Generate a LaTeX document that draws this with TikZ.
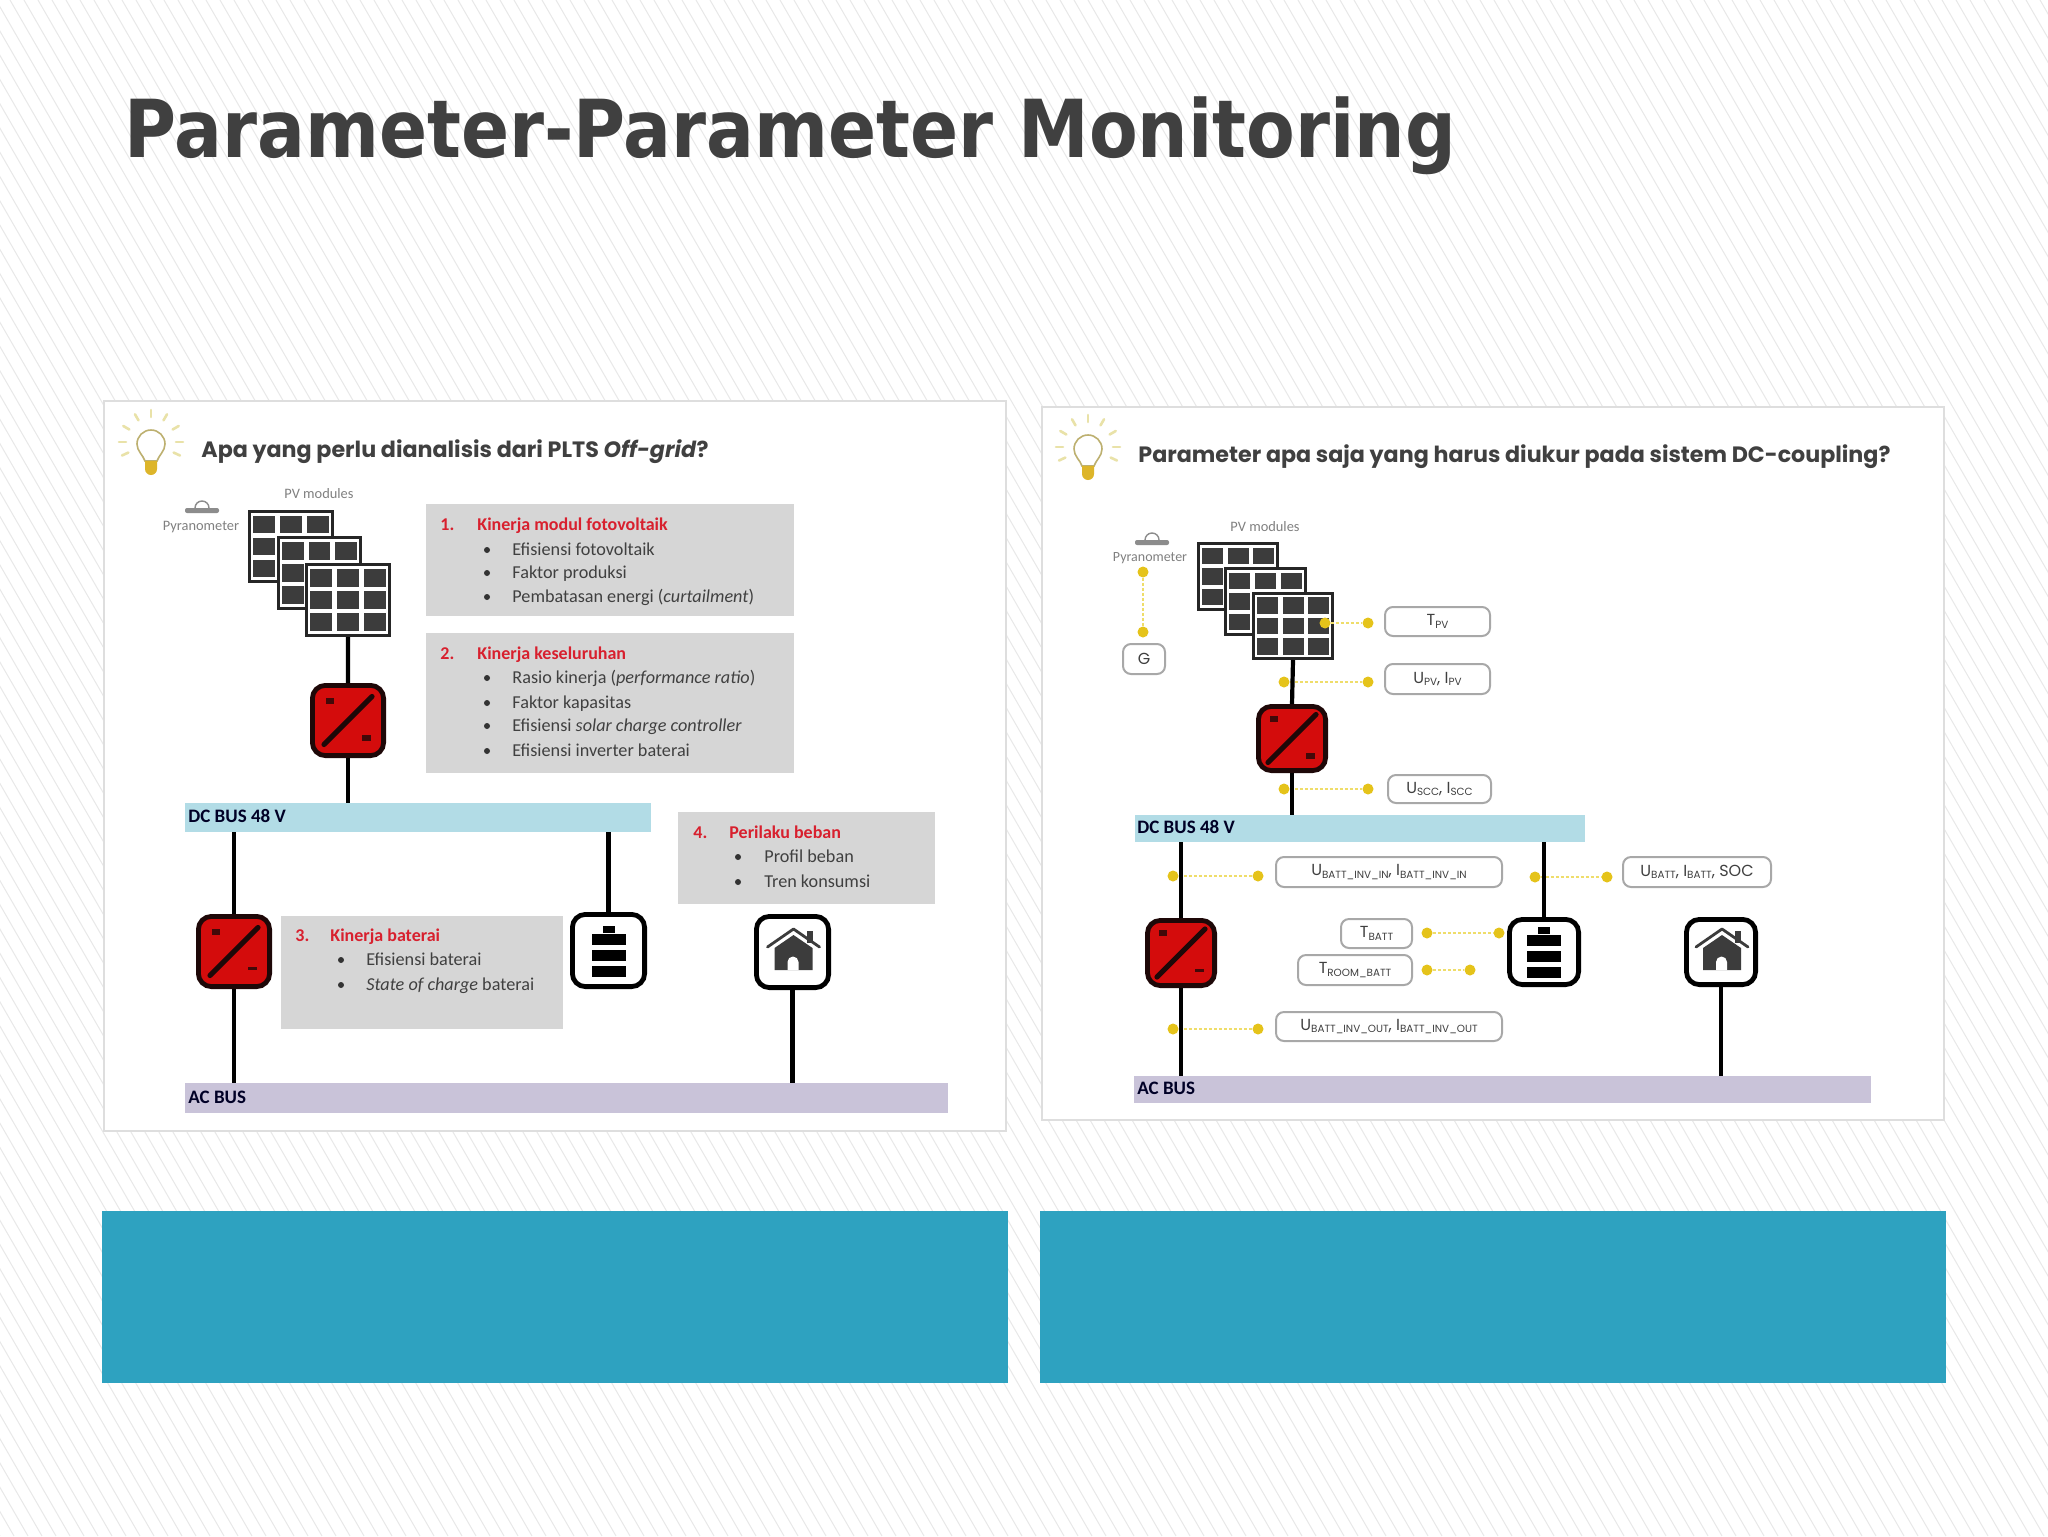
\documentclass[tikz,border=0pt]{standalone}
\usepackage{fontspec}
\setmainfont{Carlito}
\newfontfamily\titlefont{DejaVu Sans}[FakeStretch=0.887]
\newfontfamily\geofont{Poppins}
\definecolor{inkdark}{HTML}{404040}
\definecolor{stripe}{HTML}{E8E8E8}
\definecolor{cardline}{HTML}{DEDEDE}
\definecolor{tealbox}{HTML}{2EA2C0}
\definecolor{greybox}{HTML}{D6D6D6}
\definecolor{busdc}{HTML}{B2DCE6}
\definecolor{busac}{HTML}{C9C3D9}
\definecolor{redhead}{HTML}{D8202E}
\definecolor{invred}{HTML}{D40C0C}
\definecolor{invline}{HTML}{1E0808}
\definecolor{probedot}{HTML}{E5C31A}
\definecolor{probeline}{HTML}{EFDD6A}
\definecolor{cellgrey}{HTML}{3C3C3C}
\definecolor{tagline}{HTML}{A8A8A8}
\definecolor{raypale}{HTML}{E9E2A8}
\definecolor{glass}{HTML}{BDB070}
\definecolor{bulbbase}{HTML}{DDB52A}
\newcommand{\fs}[1]{\fontsize{#1}{#1}\selectfont}
\newcommand{\lowtxt}[1]{\raisebox{-0.3ex}{\fs{5.2}#1}}
\tikzset{
  w/.style={minimum width=#1*0.5pt-\pgflinewidth},
  h/.style={minimum height=#1*0.5pt-\pgflinewidth},
  plain box/.style={rectangle,anchor=north west,inner sep=0pt},
  card/.style={plain box,draw=cardline,line width=0.8pt,fill=white},
  teal/.style={plain box,fill=tealbox},
  grey/.style={plain box,fill=greybox},
  dcbus/.style={plain box,fill=busdc},
  acbus/.style={plain box,fill=busac},
  wire/.style={line width=2.1pt,black},
  busname/.style={anchor=mid west,inner sep=0pt,font=\fs{9.5}\bfseries,text=black!85!blue},
  head/.style={anchor=mid west,inner sep=0pt,font=\fs{9}\bfseries,text=redhead},
  item/.style={anchor=mid west,inner sep=0pt,font=\fs{9.1},text=inkdark},
  tiny/.style={inner sep=0pt,font=\fs{7.2},text=black!50},
  ask/.style={anchor=mid west,inner sep=0pt,font=\geofont\fs{11.1}\bfseries,text=inkdark},
  tag/.style={plain box,draw=tagline,line width=1pt,fill=white,rounded corners=4pt,
    font=\geofont\fs{8},text=inkdark},
  dot/.style={circle,fill=probedot,minimum size=5.5pt,inner sep=0pt},
  probe/.style={draw=probeline,line width=1.2pt,dash pattern=on 1.5pt off 1pt},
  bullet/.style={circle,fill=black!80,minimum size=3pt,inner sep=0pt},
  panel/.style n args={2}{plain box,draw=black!85,line width=1.3pt,fill=white,w=#1,h=#2,
    path picture={
      \foreach \i in {-1,0,1} \foreach \j in {-1,0,1}
        \fill[cellgrey,shift={(path picture bounding box.center)}]
          (\i*0.31*#1-0.128*#1,\j*0.3*#2-0.12*#2) rectangle
          (\i*0.31*#1+0.128*#1,\j*0.3*#2+0.12*#2);
    }},
  inverter/.style={plain box,draw=invline,line width=2.4pt,fill=invred,rounded corners=6.5pt,
    path picture={
      \begin{scope}[sharp corners,shift={(path picture bounding box.center)}]
        \draw[invline,line width=2.6pt,line cap=round] (-24,24) -- (24,-24);
        \fill[invline!80!invred] (-22,-23) rectangle (-14,-17);
        \fill[invline!80!invred] (14,17-#1/2) rectangle (23,17+#1/2);
      \end{scope}
    }},
  inverter/.default=6,
  battery/.style={plain box,draw=black,line width=2.4pt,fill=white,rounded corners=6.5pt,
    path picture={
      \begin{scope}[sharp corners,shift={(path picture bounding box.center)}]
        \fill[black] (-6,-25) rectangle (6,-18);
        \fill[black] (-17,-17) rectangle (17,-6);
        \fill[black] (-17,-1) rectangle (17,10);
        \fill[black] (-17,15) rectangle (17,26);
      \end{scope}
    }},
  house/.style={plain box,draw=black,line width=2.4pt,fill=white,rounded corners=6.5pt,
    path picture={
      \begin{scope}[sharp corners,shift={(path picture bounding box.center)}]
        \fill[cellgrey] (14,-21) rectangle (20,-9);
        \draw[cellgrey,line width=1.4pt,line cap=round,line join=round] (-25,-5) -- (1,-23) -- (27,-5);
        \fill[cellgrey] (-18,18) -- (-18,-4) -- (1,-17) -- (20,-4) -- (20,18) -- cycle;
        \fill[white] (-5,18) -- (-5,10) arc[start angle=180,end angle=360,radius=5.5] -- (6,18) -- cycle;
      \end{scope}
    }},
  bulb/.pic={
    \foreach \a in {90,60,120,30,150,0,180,-25,205}
      \draw[raypale,line width=1.3pt,line cap=round] (0,-5) ++(-\a:25) -- ++(-\a:7);
    \draw[glass,line width=0.8pt,fill=white] (-6,14) .. controls (-8,8) and (-14,4) .. (-14,-3)
      arc[start angle=180,end angle=360,radius=14]
      .. controls (14,4) and (8,8) .. (6,14) -- cycle;
    \fill[bulbbase] (-6,14) -- (6,14) -- (6,22) arc[start angle=0,end angle=180,radius=6] -- cycle;
  },
  pyrano/.pic={
    \draw[black!45,line width=0.7pt] (-7,0) arc[start angle=180,end angle=360,radius=7];
    \fill[black!45,rounded corners=1pt] (-17,0) rectangle (17,5);
  }
}
\begin{document}
\begin{tikzpicture}[x=0.5pt,y=-0.5pt]
\useasboundingbox (0,0) rectangle (2048,1536);
% striped slide background
\fill[white] (0,0) rectangle (2048,1536);
\begin{scope}
  \clip (0,0) rectangle (2048,1536);
  \foreach \x in {-900,-886,...,2048}
    \draw[stripe,line width=0.5pt] (\x,0) -- (\x+886,1536);
\end{scope}

\node[anchor=base west,inner sep=0pt,font=\titlefont\fs{40}\bfseries,text=inkdark] (title) at (124,157) {Parameter-Parameter Monitoring};

% cards and teal bars
\node[card,w=904,h=732] (cardA) at (103,400) {};
\node[card,w=904,h=715] (cardB) at (1041,406) {};
\node[teal,w=906,h=172] (tealA) at (102,1211) {};
\node[teal,w=906,h=172] (tealB) at (1040,1211) {};

% ---- left card ----
\pic at (151,447) {bulb};
\node[ask] (askA) at (201,453) {Apa yang perlu dianalisis dari PLTS \textit{Off-grid}?};
\pic at (202,508) {pyrano};
\node[tiny] (pyrA) at (201,527) {Pyranometer};
\node[tiny] (pvA) at (319,494) {PV modules};

\node[panel={86}{73}] (pA1) at (248,510) {};
\node[panel={85}{74}] (pA2) at (277,536) {};
\node[panel={86}{74}] (pA3) at (305,563) {};
\node[inverter,w=76,h=75] (invA1) at (310,683) {};
\node[dcbus,w=466,h=29] (dcA) at (185,803) {};
\node[acbus,w=763,h=30] (acA) at (185,1083) {};
\node[inverter=3,w=76,h=75] (invA2) at (196,914) {};
\node[battery,w=77,h=77] (batA) at (570,912) {};
\node[house,w=77,h=76] (homeA) at (754,914) {};
\draw[wire] (pA3.south) -- (invA1.north);
\draw[wire] (invA1.south) -- (invA1.south |- dcA.north);
\draw[wire] (invA2.north) -- (invA2.north |- dcA.south);
\draw[wire] (invA2.south) -- (invA2.south |- acA.north);
\draw[wire] (batA.north) -- (batA.north |- dcA.south);
\draw[wire] (homeA.south) -- (homeA.south |- acA.north);
\node[busname] (dcAtxt) at (188,818) {DC BUS 48 V};
\node[busname] (acAtxt) at (188,1099) {AC BUS};

\node[grey,w=368,h=112] (g1) at (426,504) {};
\node[head] (n1) at (440,526) {1.};
\node[head] (t1) at (477,526) {Kinerja modul fotovoltaik};
\node[bullet] (b11) at (487,550) {};
\node[item] (i11) at (512,551) {Efisiensi fotovoltaik};
\node[bullet] (b12) at (487,573) {};
\node[item] (i12) at (512,574) {Faktor produksi};
\node[bullet] (b13) at (487,597) {};
\node[item] (i13) at (512,598) {Pembatasan energi (\textit{curtailment})};

\node[grey,w=368,h=140] (g2) at (426,633) {};
\node[head] (n2) at (440,655) {2.};
\node[head] (t2) at (477,655) {Kinerja keseluruhan};
\node[bullet] (b21) at (487,678) {};
\node[item] (i21) at (512,679) {Rasio kinerja (\textit{performance ratio})};
\node[bullet] (b22) at (487,703) {};
\node[item] (i22) at (512,704) {Faktor kapasitas};
\node[bullet] (b23) at (487,726) {};
\node[item] (i23) at (512,727) {Efisiensi \textit{solar charge controller}};
\node[bullet] (b24) at (487,751) {};
\node[item] (i24) at (512,752) {Efisiensi inverter baterai};

\node[grey,w=282,h=113] (g3) at (281,916) {};
\node[head] (n3) at (295,937) {3.};
\node[head] (t3) at (330,937) {Kinerja baterai};
\node[bullet] (b31) at (341,960) {};
\node[item] (i31) at (366,961) {Efisiensi baterai};
\node[bullet] (b32) at (341,985) {};
\node[item] (i32) at (366,986) {\textit{State of charge} baterai};

\node[grey,w=257,h=92] (g4) at (678,812) {};
\node[head] (n4) at (693,834) {4.};
\node[head] (t4) at (729,834) {Perilaku beban};
\node[bullet] (b41) at (738,857) {};
\node[item] (i41) at (764,858) {Profil beban};
\node[bullet] (b42) at (738,882) {};
\node[item] (i42) at (764,883) {Tren konsumsi};

% ---- right card ----
\pic at (1088,452) {bulb};
\node[ask] (askB) at (1138,458) {Parameter apa saja yang harus diukur pada sistem DC-coupling?};
\pic at (1152,540) {pyrano};
\node[tiny,font=\fs{7}] (pyrB) at (1150,558) {Pyranometer};
\node[tiny] (pvB) at (1265,527) {PV modules};

\node[panel={82}{69}] (pB1) at (1197,542) {};
\node[panel={83}{69}] (pB2) at (1224,567) {};
\node[panel={82}{68}] (pB3) at (1252,592) {};
\node[inverter,w=72,h=69] (invB1) at (1256,704) {};
\node[dcbus,w=450,h=27] (dcB) at (1135,815) {};
\node[acbus,w=737,h=27] (acB) at (1134,1076) {};
\node[inverter=3,w=72,h=70] (invB2) at (1145,918) {};
\node[battery,w=74,h=70] (batB) at (1507,917) {};
\node[house,w=74,h=70] (homeB) at (1684,917) {};

\node[tag,w=44,h=32] (tagG) at (1122,643) {G};
\node[tag,w=107,h=31] (tagTpv) at (1384,606) {T\lowtxt{PV}};
\node[tag,w=107,h=32] (tagUpv) at (1384,663) {U\lowtxt{PV}, I\lowtxt{PV}};
\node[tag,w=105,h=30] (tagUscc) at (1387,774) {U\lowtxt{SCC}, I\lowtxt{SCC}};
\node[tag,w=228,h=32] (tagIn) at (1275,856) {U\lowtxt{BATT\_INV\_IN}, I\lowtxt{BATT\_INV\_IN}};
\node[tag,w=150,h=32] (tagBat) at (1622,856) {U\lowtxt{BATT}, I\lowtxt{BATT}, SOC};
\node[tag,w=73,h=31] (tagTb) at (1340,918) {T\lowtxt{BATT}};
\node[tag,w=116,h=32] (tagTr) at (1297,954) {T\lowtxt{ROOM\_BATT}};
\node[tag,w=228,h=31] (tagOut) at (1275,1011) {U\lowtxt{BATT\_INV\_OUT}, I\lowtxt{BATT\_INV\_OUT}};

% measuring points
\node[dot] (d1a) at (1143,572) {};
\node[dot] (d1b) at (1143,632) {};
\node[dot] (d2a) at (1325,623) {};
\node[dot] (d2b) at (1368,623) {};
\node[dot] (d3a) at (1284,682) {};
\node[dot] (d3b) at (1368,682) {};
\node[dot] (d4a) at (1284,789) {};
\node[dot] (d4b) at (1368,789) {};
\node[dot] (d5a) at (1173,876) {};
\node[dot] (d5b) at (1258,876) {};
\node[dot] (d6a) at (1535,877) {};
\node[dot] (d6b) at (1607,877) {};
\node[dot] (d7a) at (1427,933) {};
\node[dot] (d7b) at (1499,933) {};
\node[dot] (d8a) at (1427,970) {};
\node[dot] (d8b) at (1470,970) {};
\node[dot] (d9a) at (1173,1029) {};
\node[dot] (d9b) at (1258,1029) {};
\foreach \n in {1,...,9}
  \draw[probe] (d\n a) -- (d\n b);

\draw[wire] (pB3.south) -- (invB1.north);
\draw[wire] (invB1.south) -- (invB1.south |- dcB.north);
\draw[wire] (invB2.north) -- (invB2.north |- dcB.south);
\draw[wire] (invB2.south) -- (invB2.south |- acB.north);
\draw[wire] (batB.north) -- (batB.north |- dcB.south);
\draw[wire] (homeB.south) -- (homeB.south |- acB.north);
\node[busname] (dcBtxt) at (1137,829) {DC BUS 48 V};
\node[busname] (acBtxt) at (1137,1090) {AC BUS};
\end{tikzpicture}
\end{document}
